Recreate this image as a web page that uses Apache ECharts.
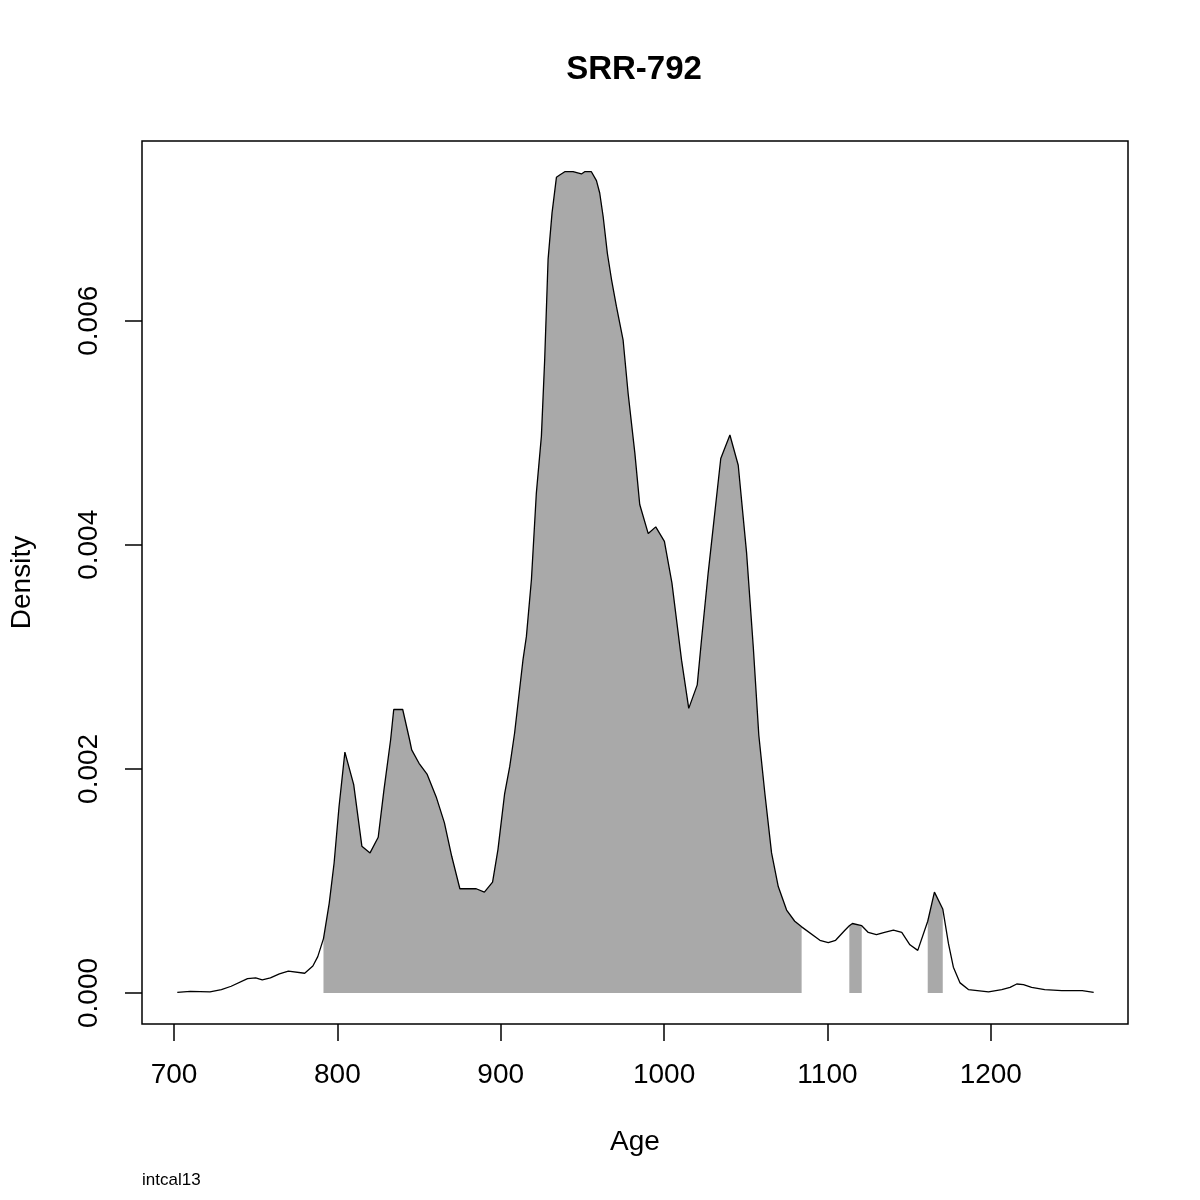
<!DOCTYPE html>
<html>
<head>
<meta charset="utf-8">
<script src="https://cdn.jsdelivr.net/npm/echarts@6/dist/echarts.min.js"></script>
<style>
  html, body { margin: 0; padding: 0; background: #fff; }
  #main { width: 1200px; height: 1200px; }
</style>
</head>
<body>
<div id="main"></div>
<script>
// calibrated age density
var ages = [702, 710, 722, 729, 735, 745, 750, 754, 759, 764.5, 770, 780, 785, 788,
  791.5, 795, 798, 801, 804.6, 810, 815, 820, 825, 828.5, 832.6, 834.5, 840, 844.2,
  845.5, 850, 855, 860.5, 865.5, 870, 875, 885, 890, 895, 898.3, 902.4, 905.5, 908.5,
  913.6, 915.7, 918.8, 921.8, 924.9, 926.9, 929, 931.4, 934.1, 936.1, 939.2, 944.3,
  949.4, 951.4, 955.5, 958.6, 960.6, 962.7, 965.3, 967.8, 970.8, 974.9, 978, 982.1,
  985.1, 990.3, 994.9, 1000.2, 1004.8, 1010.7, 1015.1, 1020.3, 1022.9, 1027, 1030.1,
  1034.7, 1040.3, 1045.4, 1050.5, 1054.6, 1058, 1061.7, 1065.8, 1069.9, 1075, 1080,
  1084.2, 1095.4, 1100.5, 1105, 1110.7, 1113.4, 1115.3, 1121, 1125, 1130, 1135,
  1140.4, 1145.5, 1150.5, 1155.3, 1161.4, 1165.5, 1170.6, 1174.1, 1177.1, 1181.2,
  1186.3, 1198.6, 1206.7, 1211.8, 1215.9, 1220, 1225, 1233, 1243.5, 1256, 1263];
var density = [0.000006, 0.000015, 0.00001, 0.00003, 0.00006, 0.000128, 0.000134, 0.000116, 0.000134, 0.00017, 0.000194, 0.000176, 0.00024, 0.000324,
  0.000485, 0.0008, 0.00116, 0.00166, 0.00215, 0.00186, 0.00131, 0.00125, 0.00139, 0.00181, 0.00226, 0.00253, 0.00253, 0.00226,
  0.00217, 0.00205, 0.00195, 0.00175, 0.00152, 0.00122, 0.00093, 0.00093, 0.0009, 0.00099, 0.00128, 0.00178, 0.00202, 0.00232,
  0.00297, 0.00318, 0.00369, 0.00446, 0.00497, 0.00565, 0.00655, 0.00696, 0.00728, 0.0073, 0.00733, 0.00733,
  0.00731, 0.00733, 0.00733, 0.00725, 0.00714, 0.00693, 0.0066, 0.00637, 0.00613, 0.00583, 0.00535, 0.00482,
  0.00436, 0.0041, 0.00416, 0.00403, 0.00366, 0.00297, 0.00254, 0.00275, 0.00315, 0.00375, 0.00416,
  0.00477, 0.00498, 0.00471, 0.00393, 0.00309, 0.0023, 0.00178, 0.00125, 0.00095, 0.00074, 0.00064,
  0.00059, 0.00047, 0.00045, 0.00047, 0.00056, 0.0006, 0.00062, 0.0006, 0.00054, 0.00052, 0.00054,
  0.00056, 0.00054, 0.00043, 0.00038, 0.00064, 0.0009, 0.00075, 0.00044, 0.00023, 0.00009,
  0.00003, 0.00001, 0.00003, 0.00005, 0.00008, 0.000075, 0.00005, 0.00003, 0.00002, 0.00002, 0.000006];

// highest density ranges (shaded)
var hpdRanges = [[791.5, 1084.2], [1113.4, 1121], [1161.4, 1170.6]];

var xTicks = [700, 800, 900, 1000, 1100, 1200];
var yTicks = [0, 0.002, 0.004, 0.006];

var curve = ages.map(function (a, i) { return [a, density[i]]; });

var series = hpdRanges.map(function (r) {
  return {
    type: 'line',
    data: curve.filter(function (p) { return p[0] >= r[0] && p[0] <= r[1]; }),
    symbol: 'none',
    lineStyle: { width: 0 },
    areaStyle: { color: '#a9a9a9', opacity: 1, origin: 0 },
    z: 1,
    silent: true
  };
});
series.push({
  type: 'line',
  data: curve,
  symbol: 'none',
  lineStyle: { color: '#000', width: 1.3 },
  z: 3,
  silent: true
});

var font = 'Liberation Sans, Arial, Helvetica, sans-serif';
var myChart = echarts.init(document.getElementById('main'));
myChart.setOption({
  animation: false,
  backgroundColor: '#fff',
  title: {
    text: 'SRR-792',
    left: 629,
    top: 48,
    textAlign: 'center',
    textStyle: { fontFamily: font, fontSize: 33, fontWeight: 'bold', color: '#000' }
  },
  grid: {
    left: 140, right: 72, top: 141, bottom: 176,
    show: true, borderColor: '#000', borderWidth: 1.5, backgroundColor: 'transparent'
  },
  xAxis: {
    type: 'value',
    min: 680.4,
    max: 1284,
    name: 'Age',
    nameLocation: 'middle',
    nameGap: 104,
    nameTextStyle: { fontFamily: font, fontSize: 28, color: '#000' },
    axisLine: { show: false, onZero: false },
    splitLine: { show: false },
    axisTick: { show: true, length: 17, customValues: xTicks, lineStyle: { color: '#000', width: 1.5 } },
    axisLabel: {
      customValues: xTicks, margin: 37, fontFamily: font, fontSize: 28, color: '#000',
      formatter: function (v) { return String(v); }
    }
  },
  yAxis: {
    type: 'value',
    min: -0.000277,
    max: 0.007604,
    name: 'Density',
    nameLocation: 'middle',
    nameGap: 106,
    nameTextStyle: { fontFamily: font, fontSize: 28, color: '#000' },
    axisLine: { show: false, onZero: false },
    splitLine: { show: false },
    axisTick: { show: true, length: 17, customValues: yTicks, lineStyle: { color: '#000', width: 1.5 } },
    axisLabel: {
      customValues: yTicks,
      rotate: 90,
      margin: 39,
      fontFamily: font, fontSize: 28, color: '#000',
      formatter: function (v) { return v.toFixed(3); }
    }
  },
  graphic: [{
    type: 'text',
    left: 142,
    top: 1172,
    style: { text: 'intcal13', font: '17px ' + font, fill: '#000' }
  }],
  series: series
});
</script>
</body>
</html>
